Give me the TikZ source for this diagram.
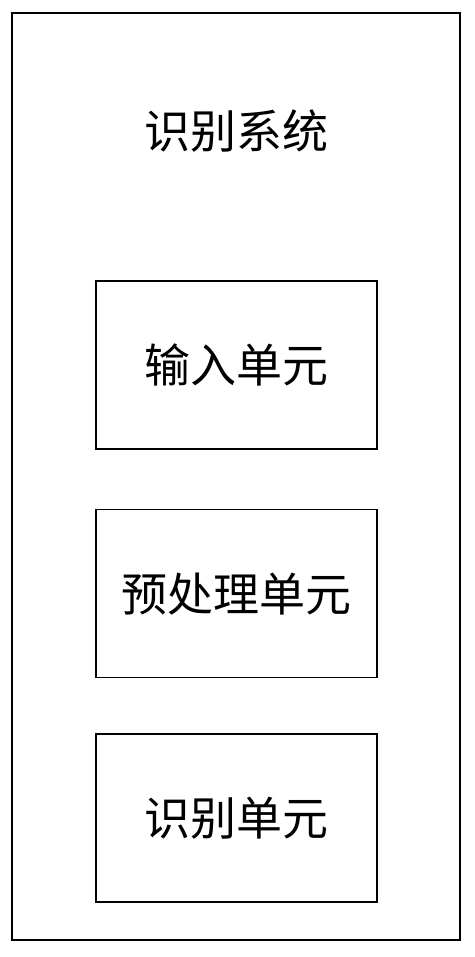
\documentclass[tikz,border=0pt]{standalone}
\usepackage{fontspec}
\newfontfamily\cjk{Noto Sans CJK SC}
\usetikzlibrary{positioning}

\begin{document}
\begin{tikzpicture}[x=1pt,y=1pt,line width=1.6pt,
                    font=\cjk\fontsize{46}{52}\selectfont]

  \tikzstyle{unit}=[rectangle,draw,minimum width=281pt,minimum height=168pt]

  \useasboundingbox (0,0) rectangle (474,-957);

  \node[draw,minimum width=448pt,minimum height=927pt] (sys) at (236,-476.5) {};
  \node (title) at (236,-131.5) {识别系统};

  \node[unit] (in)                    at (236.5,-365) {输入单元};
  \node[unit] (pre) [below=59pt of in]  {预处理单元};
  \node[unit] (rec) [below=55pt of pre] {识别单元};

\end{tikzpicture}
\end{document}
